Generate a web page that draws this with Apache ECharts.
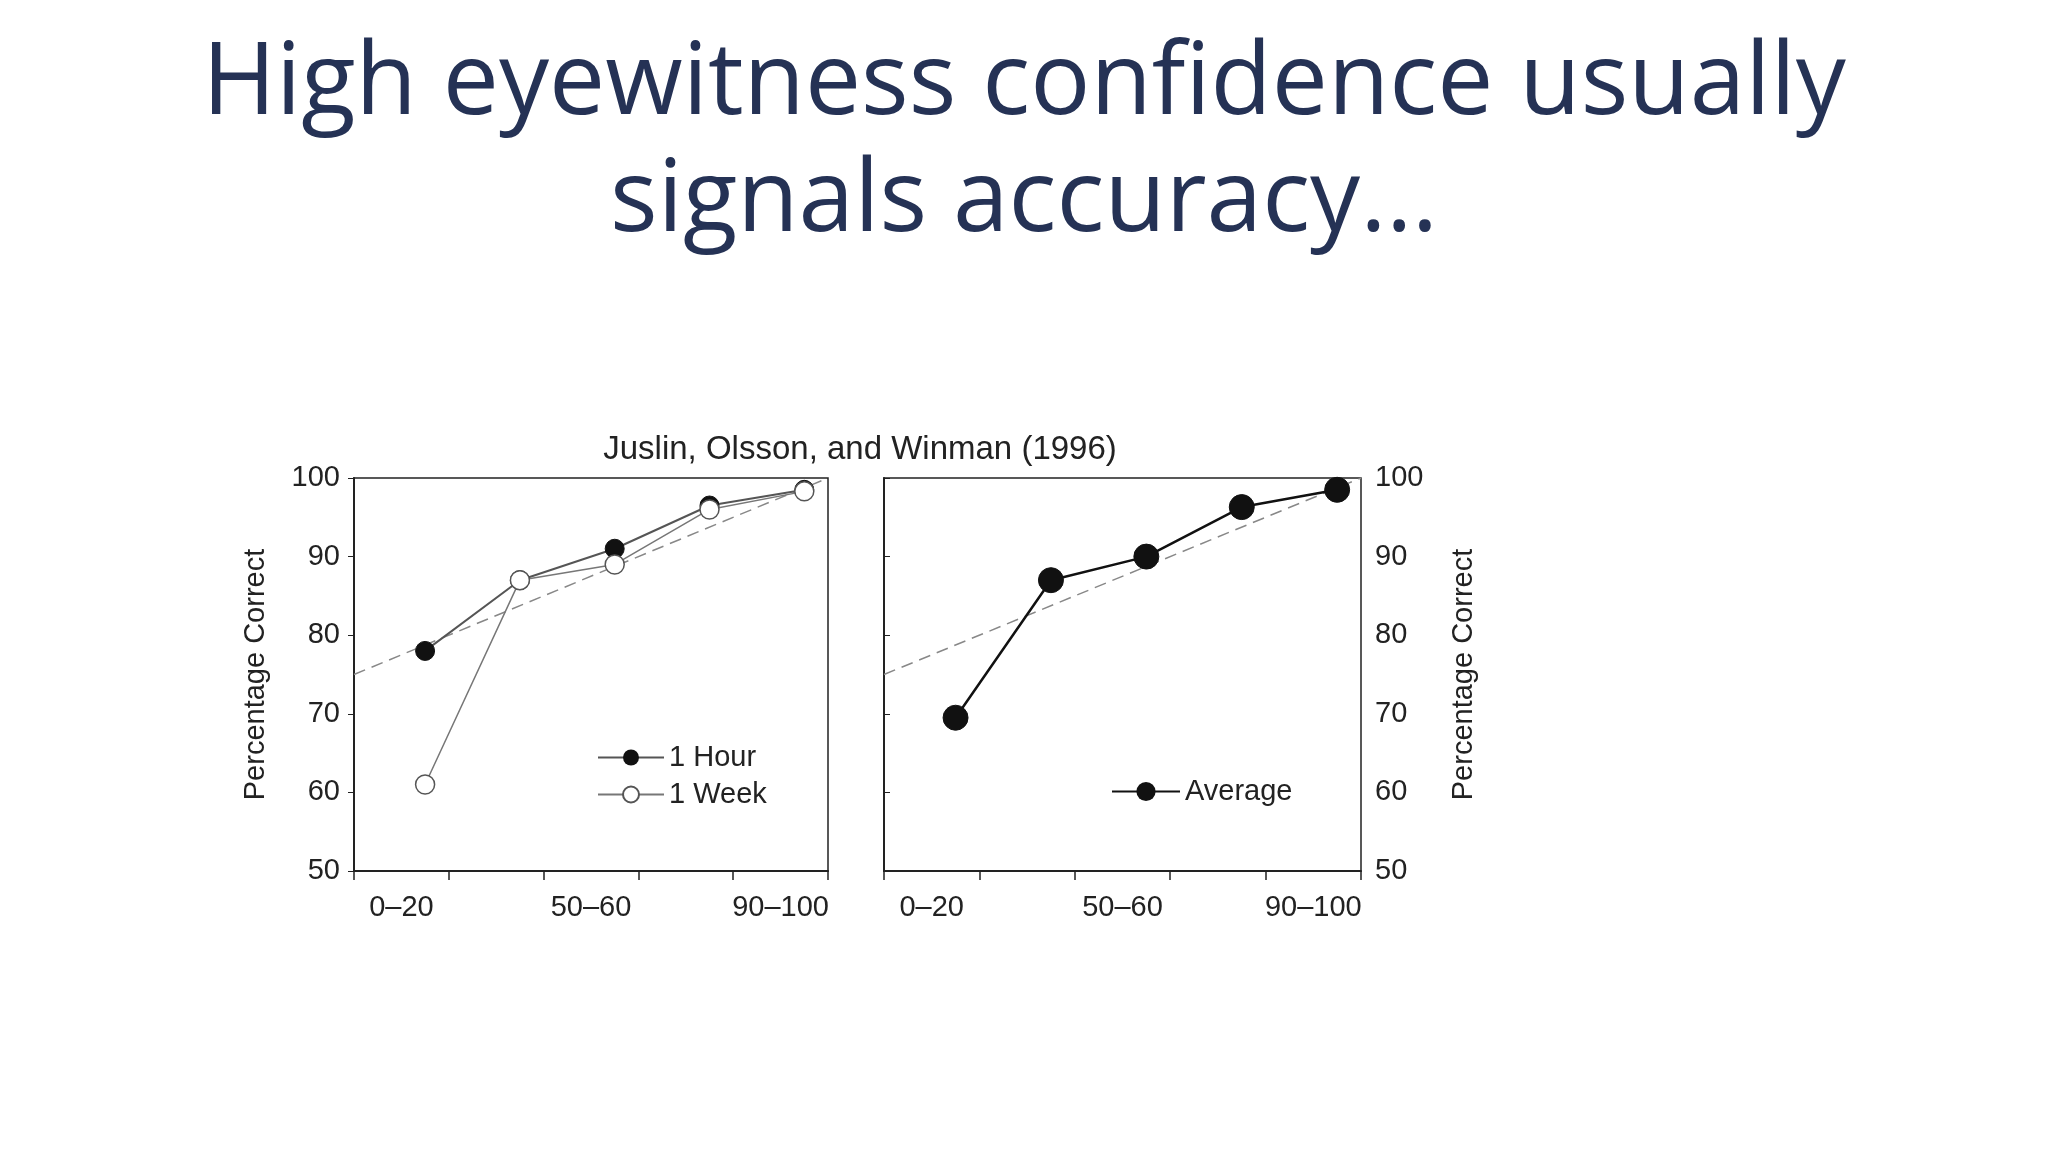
<!DOCTYPE html>
<html><head><meta charset="utf-8">
<script src="https://cdn.jsdelivr.net/npm/echarts@6/dist/echarts.min.js"></script>
<style>html,body{margin:0;padding:0;background:#fff}#c{width:2048px;height:1152px}</style>
</head><body><div id="c"></div>
<script>
const categories = ['0–20','30–40','50–60','70–80','90–100'];
const binMid = [15,35,55,75,95];
const hour1 = [78,87,91,96.5,98.5];
const week1 = [61,87,89,96,98.3];
const average = [69.5,87,90,96.3,98.5];
const calib = [[0,75],[100,100]];
const yTicks = [50,60,70,80,90,100];

const F = '"Liberation Sans Narrow","Liberation Sans",Arial,sans-serif';
const pair = (xs, ys) => xs.map((x,i)=>[x,ys[i]]);
const grids = [{left:354,top:478,width:474,height:393},{left:884,top:478,width:477,height:393}];
const chart = echarts.init(document.getElementById('c'));
const xv = i => ({type:'value',gridIndex:i,min:0,max:100,interval:20,
  axisLine:{show:true,lineStyle:{color:'#222',width:2}},
  axisTick:{show:true,inside:false,length:9,lineStyle:{color:'#222',width:1.5}},
  axisLabel:{show:false},splitLine:{show:false}});
const xc = i => ({type:'category',gridIndex:i,data:categories,position:'bottom',
  axisLine:{show:false},axisTick:{show:false},
  axisLabel:{show:true,margin:22,fontFamily:F,fontSize:29,color:'#222'}});
const yv = (i,pos) => ({type:'value',gridIndex:i,min:50,max:100,interval:10,position:pos,
  name:'Percentage Correct',nameLocation:'middle',nameGap:pos==='left'?84:88,nameRotate:90,
  nameTextStyle:{fontFamily:'"Liberation Sans",Arial,sans-serif',fontSize:29,color:'#222'},
  axisLine:{show:true,lineStyle:{color:'#222',width:2}},
  axisTick:{show:true,length:6,lineStyle:{color:'#222'}},
  axisLabel:{show:true,margin:14,fontFamily:F,fontSize:29,color:'#222',
    formatter:v=>yTicks.includes(v)?String(v):''},
  splitLine:{show:false}});
chart.setOption({
  animation:false,
  title:[
    {text:'High eyewitness confidence usually\nsignals accuracy…',left:'center',top:22,
      textStyle:{fontFamily:'"Open Sans","Noto Sans",sans-serif',fontWeight:'normal',fontSize:100,lineHeight:117,color:'#253255'}},
    {text:'Juslin, Olsson, and Winman (1996)',left:855,top:428,textAlign:'center',
      textStyle:{fontFamily:F,fontWeight:'normal',fontSize:33,color:'#222'}}
  ],
  grid:grids.map(g=>Object.assign({show:true,borderColor:'#222',borderWidth:1.5,backgroundColor:'transparent'},g)),
  xAxis:[xv(0),xc(0),xv(1),xc(1)],
  yAxis:[yv(0,'left'),yv(1,'right')],
  legend:[
    {data:['1 Hour','1 Week'],orient:'vertical',left:592,top:738,itemGap:8,itemWidth:66,itemHeight:20,
      textStyle:{fontFamily:F,fontSize:29,color:'#222'}},
    {data:['Average'],left:1106,top:772,itemWidth:68,itemHeight:24,
      textStyle:{fontFamily:F,fontSize:29,color:'#222'}}
  ],
  series:[
    {type:'line',name:'calib0',xAxisIndex:0,yAxisIndex:0,data:calib,symbol:'none',silent:true,
      lineStyle:{color:'#888',width:1.5,type:[12,7]}},
    {type:'line',name:'calib1',xAxisIndex:2,yAxisIndex:1,data:calib,symbol:'none',silent:true,
      lineStyle:{color:'#888',width:1.5,type:[12,7]}},
    {type:'line',name:'1 Hour',xAxisIndex:0,yAxisIndex:0,data:pair(binMid,hour1),symbol:'circle',symbolSize:19,
      lineStyle:{color:'#555',width:2},itemStyle:{color:'#111',borderColor:'#111'}},
    {type:'line',name:'1 Week',xAxisIndex:0,yAxisIndex:0,data:pair(binMid,week1),symbol:'circle',symbolSize:19,
      lineStyle:{color:'#777',width:1.5},itemStyle:{color:'#fff',borderColor:'#555',borderWidth:1.5}},
    {type:'line',name:'Average',xAxisIndex:2,yAxisIndex:1,data:pair(binMid,average),symbol:'circle',symbolSize:25,
      lineStyle:{color:'#111',width:2.5},itemStyle:{color:'#111',borderColor:'#111'}}
  ]
});
</script></body></html>
